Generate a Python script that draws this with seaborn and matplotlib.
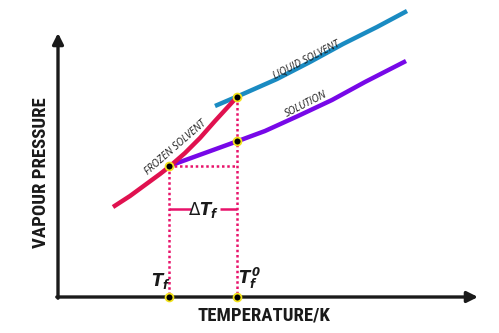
import matplotlib
matplotlib.use("Agg")
import matplotlib.pyplot as plt
from matplotlib import font_manager as fm
import seaborn as sns
import pandas as pd

# Curve data (x = temperature, y = vapour pressure, image frame, y grows downward)
frozen_T = [113, 130, 145, 160, 169, 185, 200, 215, 226, 237]
frozen_P = [207, 196, 185, 174, 167, 153, 138, 121, 109, 97]
liquid_T = [215, 243, 277, 310, 343, 377, 407]
liquid_P = [106, 94, 79, 62, 44, 27, 11]
solution_T = [169, 238, 265, 298, 332, 365, 406]
solution_P = [166, 141, 131, 116, 100, 82, 61]

# Key points
freeze_solution = (169, 166)   # Tf on solution curve
freeze_pure = (237, 97)        # Tf0
solution_at_Tf0 = (237, 141)
axis_y = 297
axis_x = 58

tick_labels = [r"$\mathbfit{T}_{\mathbfit{f}}$", r"$\mathbfit{T}_{\mathbfit{f}}^{\,\mathbfit{0}}$"]
curve_labels = ["FROZEN SOLVENT", "LIQUID SOLVENT", "SOLUTION"]

RED = "#e0114f"
BLUE = "#1a8bc2"
PURPLE = "#7708e8"
DOT = "#e8126a"
INK = "#1a1a1a"
YEL = "#f2e21a"

sns.set_theme(style="white")
plt.rcParams["font.family"] = ["DejaVu Sans"]


def pick_narrow():
    names = {f.name for f in fm.fontManager.ttflist}
    for cand in ["Liberation Sans Narrow", "Roboto Condensed", "Open Sans Condensed",
                 "DejaVu Sans Condensed", "Noto Sans Condensed"]:
        if cand in names:
            return dict(family=[cand, "DejaVu Sans"], fontsize=13.5)
    try:
        p = fm.findfont(fm.FontProperties(family="DejaVu Sans", stretch="condensed",
                                          weight="bold"), fallback_to_default=False)
        if "Condensed" in p:
            return dict(family=["DejaVu Sans"], fontstretch="condensed", fontsize=13)
    except Exception:
        pass
    return dict(family=["Roboto", "DejaVu Sans"], fontsize=12.8)


NARROW = pick_narrow()

fig = plt.figure(figsize=(4.99, 3.33), dpi=100)
ax = fig.add_axes([0, 0, 1, 1])
ax.set_xlim(0, 499)
ax.set_ylim(333, 0)
ax.axis("off")

df_f = pd.DataFrame({"T": frozen_T, "P": frozen_P})
df_l = pd.DataFrame({"T": liquid_T, "P": liquid_P})
df_s = pd.DataFrame({"T": solution_T, "P": solution_P})

line_kw = dict(lw=3.2, sort=True, estimator=None, solid_capstyle="butt",
               solid_joinstyle="round")
sns.lineplot(data=df_l, x="T", y="P", ax=ax, color=BLUE, **line_kw)
sns.lineplot(data=df_s, x="T", y="P", ax=ax, color=PURPLE, **line_kw)
sns.lineplot(data=df_f, x="T", y="P", ax=ax, color=RED, **line_kw)

# dotted guides
dstyle = dict(color=DOT, lw=1.8, linestyle=(0, (1.0, 1.1)), zorder=2)
ax.plot([freeze_solution[0], freeze_solution[0]], [freeze_solution[1], axis_y], **dstyle)
ax.plot([freeze_pure[0], freeze_pure[0]], [freeze_pure[1], axis_y], **dstyle)
ax.plot([freeze_solution[0], freeze_pure[0]], [freeze_solution[1], freeze_solution[1]], **dstyle)

# delta T_f bracket
ybr = 209
ax.plot([freeze_solution[0], 191], [ybr, ybr], color=DOT, lw=1.8, solid_capstyle="butt")
ax.plot([220, freeze_pure[0]], [ybr, ybr], color=DOT, lw=1.8, solid_capstyle="butt")
ax.text(204, ybr + 1, r"$\Delta\mathbfit{T}_{\mathbfit{f}}$", fontsize=12, ha="center",
        va="center", color=INK)

# axes arrows
ax.annotate("", xy=(axis_x, 33), xytext=(axis_x, axis_y + 1.2),
            arrowprops=dict(arrowstyle="-|>", lw=2.4, color=INK, mutation_scale=16,
                            shrinkA=0, shrinkB=0))
ax.annotate("", xy=(478, axis_y), xytext=(axis_x - 1.2, axis_y),
            arrowprops=dict(arrowstyle="-|>", lw=2.4, color=INK, mutation_scale=16,
                            shrinkA=0, shrinkB=0))

# points
pts = pd.DataFrame({
    "T": [freeze_solution[0], freeze_pure[0], solution_at_Tf0[0], freeze_solution[0], freeze_pure[0]],
    "P": [freeze_solution[1], freeze_pure[1], solution_at_Tf0[1], axis_y, axis_y],
})
sns.scatterplot(data=pts, x="T", y="P", ax=ax, s=32, color="black", edgecolor=YEL,
                linewidth=1.3, zorder=5)

# tick labels
ax.text(161, 291, tick_labels[0], fontsize=12, ha="center", va="bottom", color=INK)
ax.text(250, 291, tick_labels[1], fontsize=12, ha="center", va="bottom", color=INK)

# axis labels
ax.text(264, 315, "TEMPERATURE/K", fontweight="bold", ha="center", va="center",
        color=INK, **NARROW)
ax.text(41, 173, "VAPOUR PRESSURE", fontweight="bold", rotation=90, ha="center",
        va="center", color=INK, **NARROW)

# curve labels
lab = dict(fontsize=7.2, style="italic", color=INK, ha="center", va="center",
           rotation_mode="anchor", family=["Open Sans", "DejaVu Sans"])
ax.text(176, 148, curve_labels[0], rotation=41, **lab)
ax.text(307, 60, curve_labels[1], rotation=27, **lab)
ax.text(306, 104, curve_labels[2], rotation=27, **lab)

fig.savefig("out.png", dpi=100)
